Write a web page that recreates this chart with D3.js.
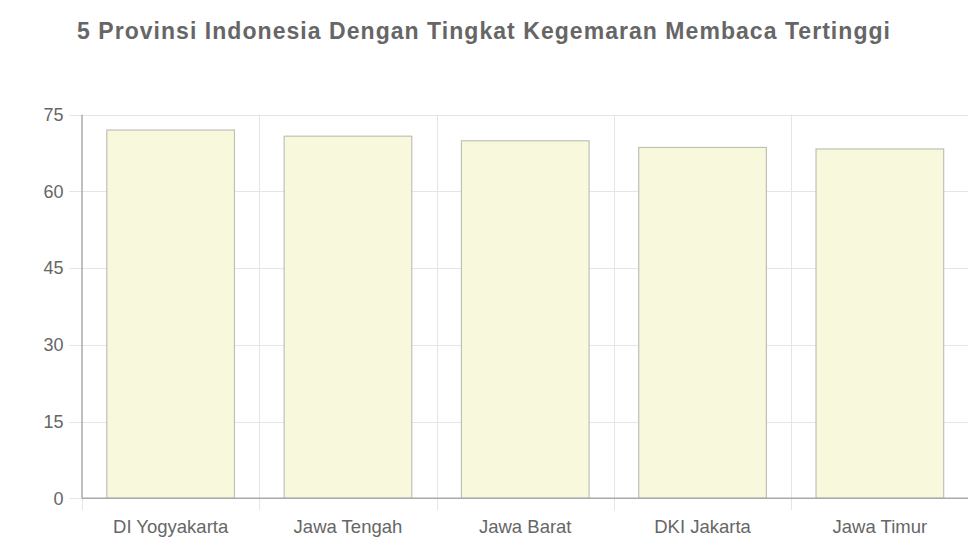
<!DOCTYPE html>
<html><head><meta charset="utf-8">
<script src="https://cdn.jsdelivr.net/npm/d3@7"></script>
<style>
html,body{margin:0;padding:0;background:#fff;overflow:hidden;}
svg{display:block;font-family:"Liberation Sans",Arial,Helvetica,sans-serif;}
</style></head>
<body>
<svg id="chart" width="968" height="543"></svg>
<script>
const titleText = "5 Provinsi Indonesia Dengan Tingkat Kegemaran Membaca Tertinggi";
const categories = ["DI Yogyakarta","Jawa Tengah","Jawa Barat","DKI Jakarta","Jawa Timur"];
const values = [72.0, 70.8, 69.9, 68.6, 68.3];
const yTicks = [0, 15, 30, 45, 60, 75];

const svg = d3.select("#chart");
const pLeft = 82, pRight = 968.5, pTop = 114.7, pBottom = 498.3;

svg.append("text").attr("x", 77).attr("y", 38.5)
  .attr("fill", "#666").attr("font-size", 23).attr("font-weight", "bold")
  .attr("textLength", 813).attr("lengthAdjust", "spacing")
  .text(titleText);

const x = d3.scaleBand().domain(categories).range([pLeft, pRight]).padding(0);
const y = d3.scaleLinear().domain([0, 75]).range([pBottom, pTop]);

// horizontal grid + y ticks
const gy = svg.append("g");
gy.selectAll("line").data(yTicks).join("line")
  .attr("x1", 69).attr("x2", pRight)
  .attr("y1", d => Math.round(y(d)) + 0.5).attr("y2", d => Math.round(y(d)) + 0.5)
  .attr("stroke", "#e5e5e5").attr("stroke-width", 1);
gy.selectAll("text").data(yTicks).join("text")
  .attr("x", 63.5).attr("y", d => y(d)).attr("dy", "0.35em")
  .attr("text-anchor", "end").attr("fill", "#666").attr("font-size", 18)
  .text(d => d);

// vertical grid at category boundaries
const bounds = categories.map(c => x(c)).concat([x(categories[categories.length-1]) + x.bandwidth()]);
svg.append("g").selectAll("line").data(bounds.slice(1)).join("line")
  .attr("x1", d => Math.round(d) + 0.5).attr("x2", d => Math.round(d) + 0.5)
  .attr("y1", pTop).attr("y2", pBottom + 12)
  .attr("stroke", "#e5e5e5").attr("stroke-width", 1);
svg.append("line").attr("x1", Math.round(pLeft)+0.5).attr("x2", Math.round(pLeft)+0.5)
  .attr("y1", pBottom).attr("y2", pBottom + 12).attr("stroke", "#e5e5e5");

// bars
const bw = x.bandwidth() * 0.72;
svg.append("g").selectAll("rect").data(values).join("rect")
  .attr("x", (d, i) => x(categories[i]) + (x.bandwidth() - bw) / 2)
  .attr("y", d => y(d))
  .attr("width", bw)
  .attr("height", d => pBottom - y(d))
  .attr("fill", "#f8f8dc").attr("stroke", "#c0c0b8").attr("stroke-width", 1.2);

// axes lines
svg.append("line").attr("x1", pLeft).attr("x2", pLeft).attr("y1", pTop).attr("y2", pBottom)
  .attr("stroke", "#aaa").attr("stroke-width", 1.5);
svg.append("line").attr("x1", pLeft).attr("x2", pRight).attr("y1", pBottom).attr("y2", pBottom)
  .attr("stroke", "#aaa").attr("stroke-width", 1.5);

// x labels
svg.append("g").selectAll("text").data(categories).join("text")
  .attr("x", d => x(d) + x.bandwidth() / 2).attr("y", 533.3)
  .attr("text-anchor", "middle").attr("fill", "#666").attr("font-size", 18.5)
  .text(d => d);
</script>
</body></html>
